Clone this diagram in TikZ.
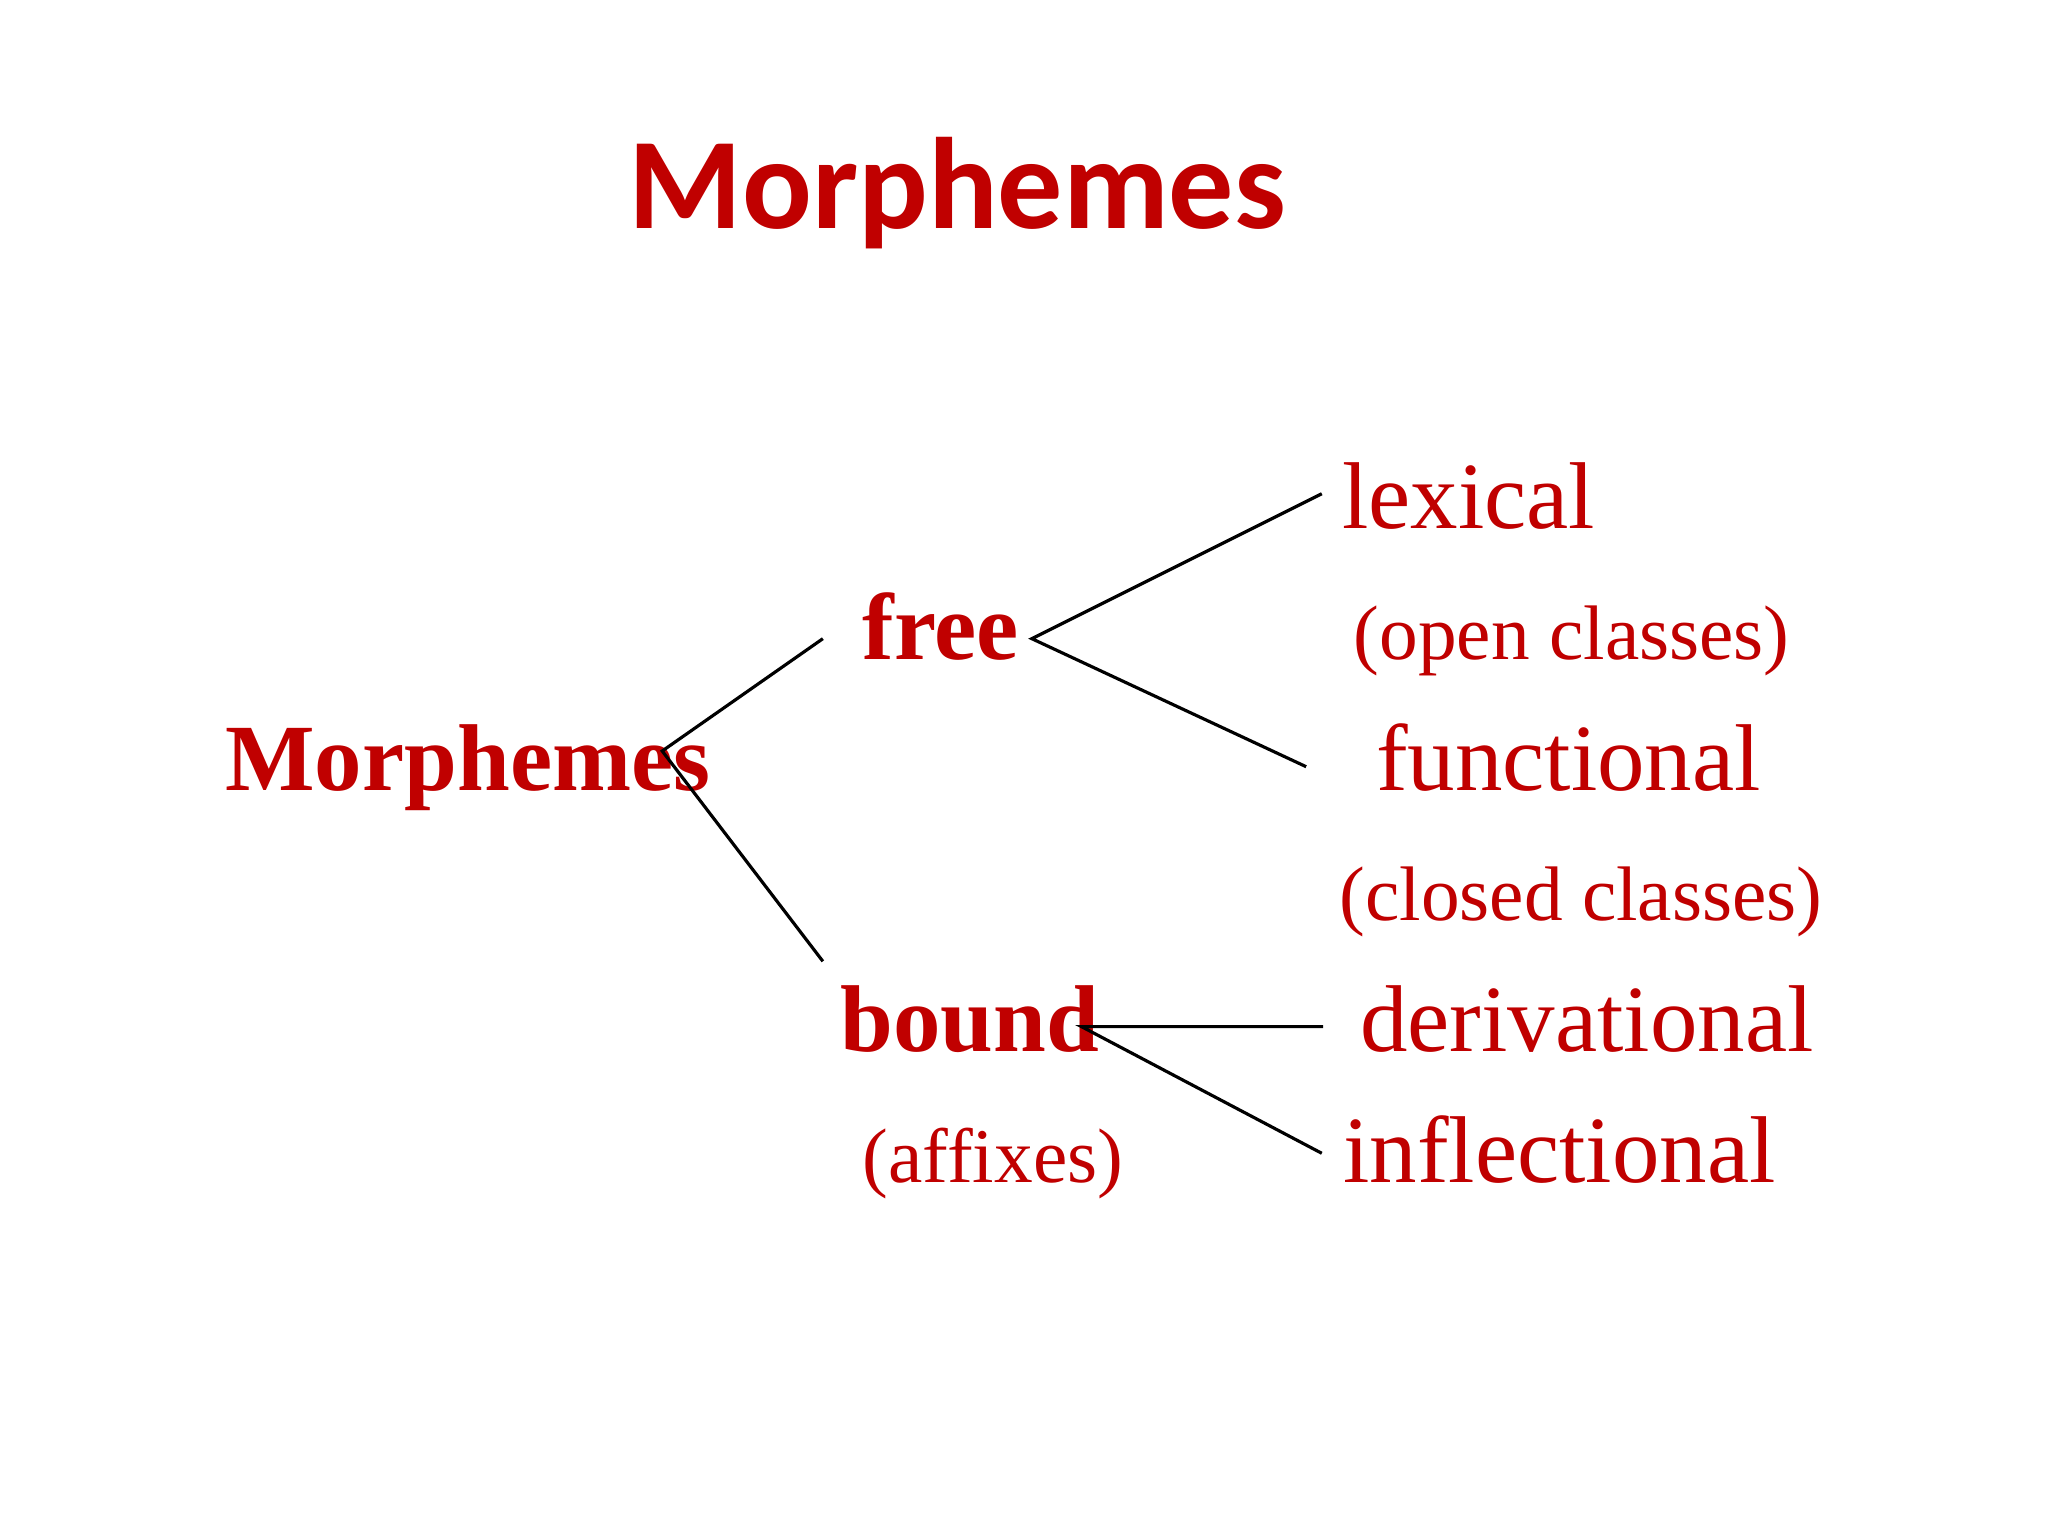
\documentclass[tikz,border=0pt]{standalone}
\usepackage{fontspec}
\setmainfont{Liberation Serif}
\newfontfamily\titlefont{Carlito}
\definecolor{dred}{RGB}{192,0,0}
\begin{document}
\begin{tikzpicture}[x=0.01306cm,y=-0.01306cm,
  txt/.style={anchor=base west,inner sep=0pt,text=dred,font=\fontsize{27}{30}\selectfont},
  btxt/.style={txt,font=\fontsize{27}{30}\selectfont\bfseries},
  stxt/.style={txt,font=\fontsize{22}{26}\selectfont},
  ln/.style={black,line width=0.9pt}]
\useasboundingbox (0,0) rectangle (1568,1176);
\node[text=dred,font=\titlefont\fontsize{37}{40}\selectfont\bfseries,inner sep=0pt] (title) at (733,148) {Morphemes};
\node[btxt] (morph) at (172,605) {Morphemes};
\node[btxt] (free) at (660,505) {free};
\node[btxt] (bound) at (643,805) {bound};
\node[stxt] (affixes) at (660,905) {(affixes)};
\node[txt] (lexical) at (1027,405) {lexical};
\node[stxt] (open) at (1036,505) {(open classes)};
\node[txt] (functional) at (1053,605) {functional};
\node[stxt] (closed) at (1025,705) {(closed classes)};
\node[txt] (deriv) at (1041,805) {derivational};
\node[txt] (infl) at (1028,905) {inflectional};
\coordinate (m0) at (507,575);
\coordinate (f1) at (630,489);
\coordinate (b1) at (630,736);
\coordinate (f0) at (790,489);
\coordinate (lx) at (1012,378);
\coordinate (fn) at (1000,587);
\coordinate (b0) at (828,786);
\coordinate (dv) at (1013,786);
\coordinate (in) at (1012,883);
\draw[ln] (f1) -- (m0) -- (b1);
\draw[ln] (lx) -- (f0) -- (fn);
\draw[ln] (dv) -- (b0) -- (in);
\end{tikzpicture}
\end{document}
